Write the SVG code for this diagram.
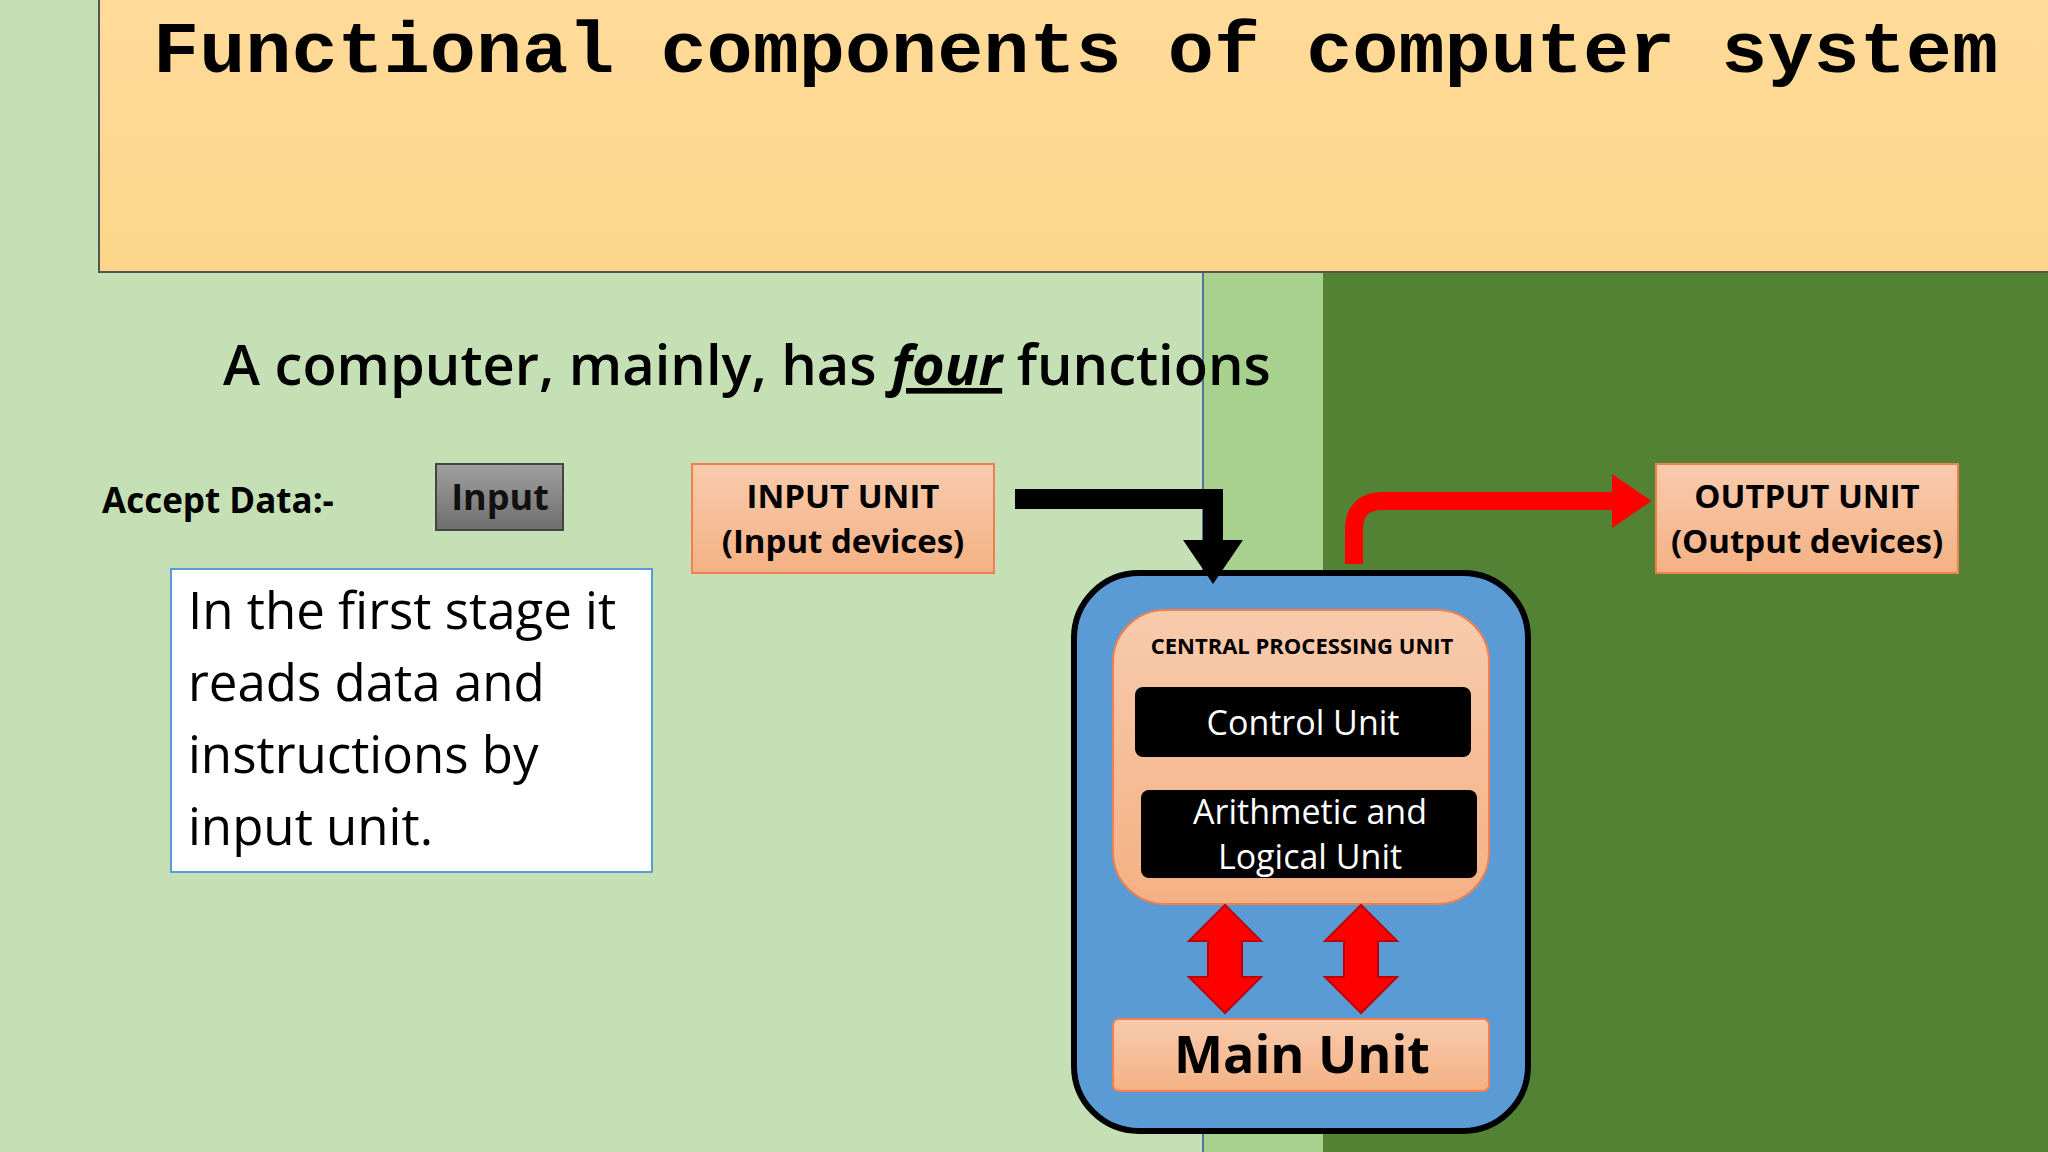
<svg xmlns="http://www.w3.org/2000/svg" width="2048" height="1152" viewBox="0 0 2048 1152">
<defs>
<linearGradient id="tg" x1="0" y1="0" x2="0" y2="1"><stop offset="0" stop-color="#ffdb9a"/><stop offset="1" stop-color="#fdd68a"/></linearGradient>
<linearGradient id="gg" x1="0" y1="0" x2="0" y2="1"><stop offset="0" stop-color="#a0a0a0"/><stop offset="1" stop-color="#6e6e6e"/></linearGradient>
<linearGradient id="sg" x1="0" y1="0" x2="0" y2="1"><stop offset="0" stop-color="#f8cbad"/><stop offset="1" stop-color="#f4b183"/></linearGradient>
<marker id="ab" markerWidth="3" markerHeight="3" refX="1" refY="1.5" orient="auto"><path d="M0,0L2.2,1.5L0,3z" fill="#000"/></marker>
<marker id="ar" markerWidth="3" markerHeight="3" refX="1" refY="1.5" orient="auto"><path d="M0,0L2.2,1.5L0,3z" fill="#ff0000"/></marker>
</defs>
<style>
.s{font-family:"Open Sans","Liberation Sans",sans-serif}
.b{font-weight:bold}
.unit{fill:url(#sg);stroke:#f08050;stroke-width:2}
.blk{fill:#000}
.w{fill:#fff}
</style>
<rect width="2048" height="1152" fill="#c5e0b4"/>
<rect x="1203" y="272" width="120" height="880" fill="#a9d18e"/>
<rect x="1323" y="272" width="725" height="880" fill="#548235"/>
<line x1="1203" y1="272" x2="1203" y2="1152" stroke="#2f5597" stroke-width="1.5"/>
<g id="title">
<rect x="99" y="-5" width="1960" height="277" fill="url(#tg)" stroke="#555" stroke-width="2"/>
<text x="153" y="72" font-family="Liberation Mono,Courier New,monospace" font-weight="bold" font-size="72" textLength="1845" lengthAdjust="spacingAndGlyphs">Functional components of computer system</text>
</g>
<g id="subtitle"><text x="223" y="385" class="s" font-weight="600" font-size="56">A computer, mainly, has <tspan font-style="italic" text-decoration="underline" font-weight="bold">four</tspan> functions</text></g>
<g id="accept"><text x="102" y="513" class="s b" font-size="35">Accept Data:-</text></g>
<g id="input"><rect x="436" y="464" width="127" height="66" fill="url(#gg)" stroke="#444" stroke-width="2"/><text x="500" y="510" text-anchor="middle" class="s b" font-size="36" fill="#111">Input</text></g>
<g id="inputunit"><rect x="692" y="464" width="302" height="109" class="unit"/>
<text x="843" y="508" text-anchor="middle" class="s b" font-size="33">INPUT UNIT</text>
<text x="843" y="553" text-anchor="middle" class="s b" font-size="33">(Input devices)</text></g>
<g id="outputunit"><rect x="1656" y="464" width="302" height="109" class="unit"/>
<text x="1807" y="508" text-anchor="middle" class="s b" font-size="33">OUTPUT UNIT</text>
<text x="1807" y="553" text-anchor="middle" class="s b" font-size="33">(Output devices)</text></g>
<g id="note"><rect x="171" y="569" width="481" height="303" fill="#fff" stroke="#5b9bd5" stroke-width="2"/>
<g class="s" font-size="51"><text x="188" y="629">In the first stage it</text><text x="188" y="701">reads data and</text><text x="188" y="773">instructions by</text><text x="188" y="845">input unit.</text></g></g>
<g id="cpu-box"><rect x="1074" y="573" width="454" height="558" rx="65" fill="#5b9bd5" stroke="#000" stroke-width="6"/></g>
<g id="cpu"><rect x="1113" y="610" width="376" height="294" rx="52" class="unit"/>
<text x="1302" y="654" text-anchor="middle" class="s b" font-size="22">CENTRAL PROCESSING UNIT</text></g>
<g id="cu"><rect x="1135" y="687" width="336" height="70" rx="8" class="blk"/><text x="1303" y="735" text-anchor="middle" class="s w" font-size="34">Control Unit</text></g>
<g id="alu"><rect x="1141" y="790" width="336" height="88" rx="8" class="blk"/><text x="1310" y="824" text-anchor="middle" class="s w" font-size="34">Arithmetic and</text><text x="1310" y="869" text-anchor="middle" class="s w" font-size="34">Logical Unit</text></g>
<g id="main"><rect x="1113" y="1019" width="376" height="72" rx="6" class="unit"/><text x="1302" y="1073" text-anchor="middle" class="s b" font-size="52">Main Unit</text></g>
<g id="connectors">
<path d="M1015,499 H1213 V560" fill="none" stroke="#000" stroke-width="20" marker-end="url(#ab)"/>
<path d="M1354,564 V530 Q1354,501 1383,501 H1630" fill="none" stroke="#ff0000" stroke-width="18" marker-end="url(#ar)"/>
<path d="M1225,905 L1261,941 H1242 V977 H1261 L1225,1013 L1189,977 H1208 V941 H1189 Z" fill="#ff0000" stroke="#c00000" stroke-width="2"/>
<path d="M1361,905 L1397,941 H1378 V977 H1397 L1361,1013 L1325,977 H1344 V941 H1325 Z" fill="#ff0000" stroke="#c00000" stroke-width="2"/>
</g>
</svg>
